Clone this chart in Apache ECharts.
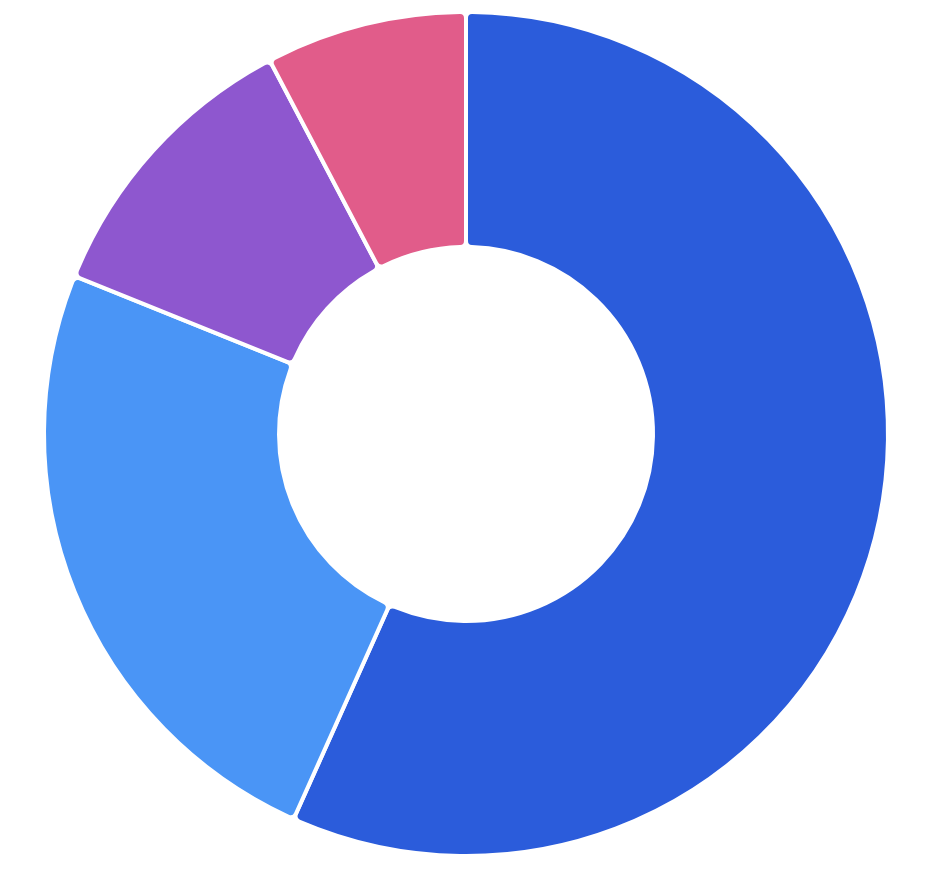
<!DOCTYPE html>
<html>
<head>
<meta charset="utf-8">
<script src="https://cdn.jsdelivr.net/npm/echarts@6/dist/echarts.min.js"></script>
<style>
html,body{margin:0;padding:0;background:#fff;}
#chart{width:938px;height:872px;}
</style>
</head>
<body>
<div id="chart"></div>
<script>
const categories = ["A", "B", "C", "D"];
const values = [56.7, 24.4, 11.2, 7.7];
const colors = ["#2b5cdb", "#4a95f6", "#8e57cf", "#e15c8a"];

const chart = echarts.init(document.getElementById('chart'), null, {renderer: 'canvas'});
chart.setOption({
  animation: false,
  series: [{
    type: 'pie',
    center: [466, 434],
    radius: [187, 422],
    startAngle: 90,
    clockwise: true,
    label: {show: false},
    labelLine: {show: false},
    itemStyle: {borderColor: '#ffffff', borderWidth: 4, borderRadius: 6},
    emphasis: {disabled: true},
    data: categories.map((c, i) => ({name: c, value: values[i], itemStyle: {color: colors[i]}}))
  }]
});
</script>
</body>
</html>
